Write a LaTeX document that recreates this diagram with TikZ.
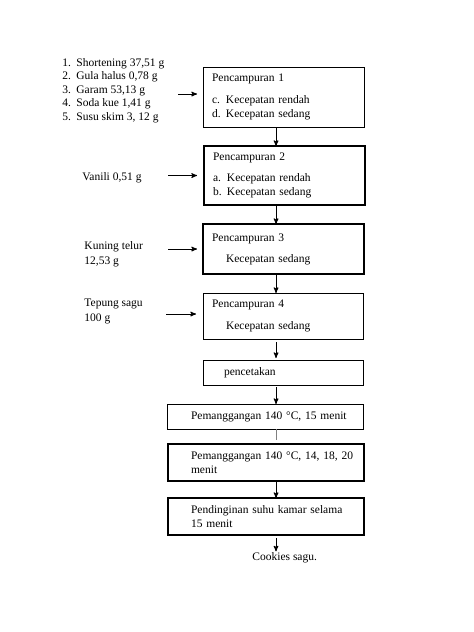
\documentclass[tikz,border=0pt]{standalone}
\usepackage{fontspec}
\setmainfont{Liberation Serif}
\usetikzlibrary{arrows, positioning}

\begin{document}
\begin{tikzpicture}[x=1pt,y=-1pt,>=stealth',line width=0.9pt,
  flow/.style={->,line width=1pt,shorten >=0pt},
  link/.style={draw=gray,line width=0.6pt},
  stage/.style={rectangle, draw, anchor=north west, align=left, outer sep=0pt,
  inner xsep=9pt, inner ysep=0pt, font=\fontsize{11.5}{13.6}\selectfont},
  heavy/.style={line width=1.6pt},
  ingr/.style={inner sep=0pt, anchor=west, align=left,
  font=\fontsize{11.5}{15}\selectfont}]
  \useasboundingbox (0,0) rectangle (474,632);
  \node[stage, text width=143pt, minimum height=60pt] (b1) at (203,67)
    {Pencampuran 1\\[8.5pt]\makebox[14pt][l]{c.}Kecepatan rendah\\\makebox[14pt][l]{d.}Kecepatan sedang};
  \node[below=19pt of b1.south west, stage, heavy, xshift=1pt, text width=143pt, minimum height=59pt] (b2)
    {Pencampuran 2\\[7.5pt]\makebox[14pt][l]{a.}Kecepatan rendah\\\makebox[14pt][l]{b.}Kecepatan sedang};
  \node[below=19pt of b2.south west, stage, line width=1.2pt, xshift=-1pt, text width=143pt, minimum height=50pt] (b3)
    {Pencampuran 3\\[7.5pt]\hspace*{14pt}Kecepatan sedang};
  \node[below=19pt of b3.south west, stage, text width=142pt, minimum height=46pt] (b4)
    {Pencampuran 4\\[8.5pt]\hspace*{14pt}Kecepatan sedang};
  \node[below=21pt of b4.south west, stage, text width=142pt, minimum height=25pt] (b5)
    {\hspace*{12pt}pencetakan};
  \node[below=19pt of b5.south west, stage, xshift=-36pt, text width=178pt, minimum height=25pt] (b6)
    {\hspace*{15pt}Pemanggangan 140 °C, 15 menit};
  \node[below=15pt of b6.south west, stage, heavy, xshift=1pt, text width=178pt, minimum height=37pt] (b7)
    {\hspace*{14pt}Pemanggangan 140 °C, 14, 18, 20\\\hspace*{14pt}menit};
  \node[below=17pt of b7.south west, stage, heavy, text width=178pt, minimum height=37pt] (b8)
    {\hspace*{14pt}Pendinginan suhu kamar selama\\\hspace*{14pt}15 menit};

  \node[ingr, font=\fontsize{11.5}{13.6}\selectfont] (ing1) at (62,90.5)
    {\makebox[14pt][l]{1.}Shortening 37,51 g\\\makebox[14pt][l]{2.}Gula halus 0,78 g\\\makebox[14pt][l]{3.}Garam 53,13 g\\\makebox[14pt][l]{4.}Soda kue 1,41 g\\\makebox[14pt][l]{5.}Susu skim 3, 12 g};
  \node[ingr] (ing2) at (82,178) {Vanili 0,51 g};
  \node[ingr] (ing3) at (84,254) {Kuning telur\\12,53 g};
  \node[ingr] (ing4) at (84,311.5) {Tepung sagu\\100 g};
  \node[ingr] (ck) at (252,558) {Cookies sagu.};

  \coordinate (spine) at (276,0);
  \coordinate[left=25pt of b1.west, yshift=3pt] (f1);
  \coordinate[left=36pt of b2.west] (f2);
  \coordinate[left=35pt of b3.west] (f3);
  \coordinate[left=37pt of b4.west, yshift=2pt] (f4);

  % feed arrows from the ingredients
  \draw[flow, shorten >=6pt] (f1) -- (f1 -| b1.west);
  \draw[flow, shorten >=7pt] (f2) -- (f2 -| b2.west);
  \draw[flow, shorten >=6pt] (f3) -- (f3 -| b3.west);
  \draw[flow, shorten >=7pt] (f4) -- (f4 -| b4.west);

  % main line
  \draw[flow] (b1.south -| spine) -- (b2.north -| spine);
  \draw[flow] (b2.south -| spine) -- (b3.north -| spine);
  \draw[flow] (b3.south -| spine) -- (b4.north -| spine);
  \draw[flow, shorten <=3pt, shorten >=2pt] (b4.south -| spine) -- (b5.north -| spine);
  \draw[flow, shorten <=2pt] (b5.south -| spine) -- (b6.north -| spine);
  \draw[link, shorten >=4pt] (b6.south -| spine) -- (b7.north -| spine);
  \draw[flow] (b7.south -| spine) -- (b8.north -| spine);
  \draw[flow, shorten <=3pt, shorten >=1pt] (b8.south -| spine) -- (ck.north -| spine);
\end{tikzpicture}
\end{document}
